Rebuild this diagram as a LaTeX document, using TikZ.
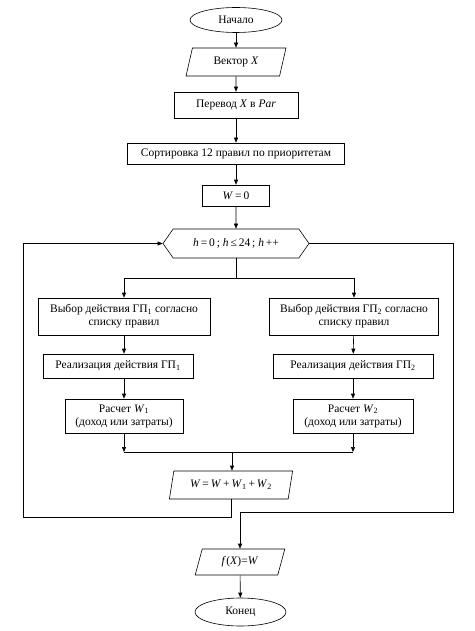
\documentclass[tikz,border=0pt]{standalone}
\usepackage{fontspec}
\setmainfont{Liberation Serif}
\usepackage{tikz}
\usetikzlibrary{positioning, arrows.meta, shapes.geometric, shapes.symbols}

\tikzset{
  every node/.style={font=\fontsize{11.5}{13}\selectfont},
  flow/.style={line width=0.6pt},
  arr/.style={flow, -{Triangle[length=5pt, width=4pt]}},
  procbox/.style={draw, flow, rectangle, inner sep=1pt, align=center},
  iobox/.style={draw, flow, trapezium, trapezium left angle=74, trapezium right angle=106,
    trapezium stretches=true, inner sep=1pt},
  termbox/.style={draw, flow, ellipse, inner sep=0pt},
  loopbox/.style={draw, flow, signal, signal to=west and east, signal pointer angle=110,
    inner sep=1pt}
}

\begin{document}
\begin{tikzpicture}[x=1pt, y=-1pt]
  \useasboundingbox (0,0) rectangle (474,631);

  \node[termbox, minimum width=92pt, minimum height=25pt] (start) at (236,20) {Начало};
  \node[iobox, minimum width=100pt, minimum height=28pt] (vec) at (236,62) {Вектор \textit{X}};
  \node[procbox, minimum width=124pt, minimum height=26pt] (conv) at (236,105) {Перевод \textit{X} в \textit{Par}};
  \node[procbox, minimum width=217pt, minimum height=21pt] (sort) at (236,153.5) {Сортировка 12 правил по приоритетам};
  \node[procbox, minimum width=67pt, minimum height=21pt] (wzero) at (236,195.5) {\textit{W}\,=\,0};
  \node[loopbox, minimum width=146pt, minimum height=29pt] (loop) at (236,243.5) {\textit{h}\,=\,0\,; \textit{h}\,≤\,24\,; \textit{h}\,++};

  % two players
  \node[procbox, minimum width=172pt, minimum height=37pt] (sel1) at (124,316.5) {Выбор действия ГП\textsubscript{1} согласно\\списку правил};
  \node[procbox, minimum width=169pt, minimum height=37pt] (sel2) at (354,316.5) {Выбор действия ГП\textsubscript{2} согласно\\списку правил};
  \node[procbox, minimum width=150pt, minimum height=24pt] (real1) at (118,366) {Реализация действия ГП\textsubscript{1}};
  \node[procbox, minimum width=160pt, minimum height=24pt] (real2) at (353,366) {Реализация действия ГП\textsubscript{2}};
  \node[procbox, minimum width=118pt, minimum height=34pt] (calc1) at (124,416) {Расчет \textit{W}\textsubscript{1}\\(доход или затраты)};
  \node[procbox, minimum width=120pt, minimum height=34pt] (calc2) at (353,416) {Расчет \textit{W}\textsubscript{2}\\(доход или затраты)};

  \node[iobox, minimum width=124pt, minimum height=28pt] (sum) at (231,485) {\textit{W}\,=\,\textit{W}\,+\,\textit{W}\textsubscript{1}\,+\,\textit{W}\textsubscript{2}};
  \node[iobox, minimum width=90pt, minimum height=26pt] (fx) at (240,562) {\textit{f}(\textit{X})=\textit{W}};
  \node[termbox, minimum width=91pt, minimum height=28pt] (stop) at (240.5,612) {Конец};

  \coordinate (split) at (236,278);
  \coordinate (merge) at (232,452);
  \coordinate (back) at (23,517);
  \coordinate (out) at (453,512);

  \draw[arr] (start) -- (vec);
  \draw[arr] (vec) -- (conv);
  \draw[arr] (conv) -- (sort);
  \draw[arr] (sort) -- (wzero);
  \draw[arr] (wzero) -- (loop);

  \draw[flow] (loop.south) -- (split);
  \draw[arr] (split) -| (sel1.north);
  \draw[arr] (split) -| (sel2.north);
  \draw[arr] (sel1.south) -- (sel1.south |- real1.north);
  \draw[arr] (sel2) -- (real2);
  \draw[arr] (real1.south -| sel1) -- (calc1);
  \draw[arr] (real2) -- (calc2);
  \draw[arr] (calc1.south) -- (calc1.south |- merge);
  \draw[arr] (calc2.south) -- (calc2.south |- merge);
  \draw[flow] (calc1.south |- merge) -- (calc2.south |- merge);
  \draw[arr] (merge) -- (merge |- sum.north);

  % loop back
  \draw[arr] (sum.south) |- (back) |- (loop.west);
  % loop exit
  \draw[arr] (loop.east) -| (out) -| (fx.north);
  \draw[arr] (fx) -- (stop);
\end{tikzpicture}
\end{document}
